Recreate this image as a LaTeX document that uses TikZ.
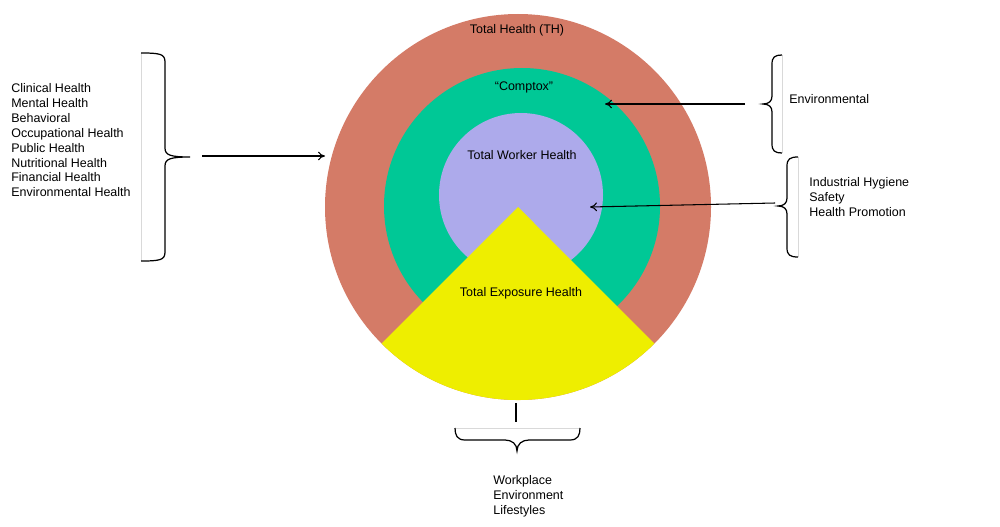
\documentclass[tikz,border=0pt]{standalone}
\usepackage{fontspec}
\setmainfont{Liberation Sans}
\usetikzlibrary{arrows.meta}
\definecolor{th}{HTML}{D47B67}
\definecolor{ct}{HTML}{00C896}
\definecolor{tw}{HTML}{ADAAEB}
\definecolor{te}{HTML}{EEEE00}
\begin{document}
\begin{tikzpicture}[x=0.02cm,y=-0.02cm,
  lbl/.style={font=\fontsize{7.1}{8.5}\selectfont,inner sep=0pt},
  lst/.style={lbl,align=left,anchor=north west},
  br/.style={line width=0.7pt,black},
  gl/.style={line width=0.3pt,black!15},
  arr/.style={line width=0.6pt,-{To[length=4pt,width=5pt]}}]
\useasboundingbox (0,0) rectangle (1000,527);
\fill[th] (518,207) circle[radius=193];
\fill[ct] (522,206) circle[radius=138];
\fill[tw] (521,195) circle[radius=82];
\fill[te] (518,207) -- (381.5,343.5) arc[start angle=135,end angle=45,radius=193] -- cycle;
\node[lbl] (th) at (517,30) {Total Health (TH)};
\node[lbl] (ct) at (524,87) {“Comptox”};
\node[lbl] (tw) at (522,155) {Total Worker Health};
\node[lbl] (te) at (521,293) {Total Exposure Health};
% left
\node[lst] (left) at (11,83) {Clinical Health\\Mental Health\\Behavioral\\Occupational Health\\Public Health\\Nutritional Health\\Financial Health\\Environmental Health};
\draw[gl] (141,53) -- (141,261);
\draw[br] (141,53) .. controls (160,53) and (165,54) .. (165,62) -- (165,148) .. controls (165,155) and (170,157) .. (190,157) .. controls (170,157) and (165,159) .. (165,166) -- (165,252) .. controls (165,260) and (160,261) .. (141,261);
\coordinate (la) at (202,156); \coordinate (lb) at (325,156);
\draw[arr] (la) -- (lb);
% right top
\node[lbl,anchor=west] (env) at (789,99) {Environmental};
\draw[gl] (782,55) -- (782,153);
\draw[br] (782,55) .. controls (775,55) and (772,57) .. (772,64) -- (772,96) .. controls (772,101) and (769,104) .. (763,104) .. controls (769,104) and (772,107) .. (772,112) -- (772,144) .. controls (772,151) and (775,153) .. (782,153);
\coordinate (ea) at (745,104); \coordinate (eb) at (605,104);
\draw[arr] (ea) -- (eb);
% right bottom
\node[lst] (ih) at (809,177) {Industrial Hygiene\\Safety\\Health Promotion};
\draw[gl] (798,157) -- (798,257);
\draw[br] (798,157) .. controls (790,157) and (787,159) .. (787,166) -- (787,198) .. controls (787,203) and (784,206) .. (778,206) .. controls (784,206) and (787,209) .. (787,214) -- (787,248) .. controls (787,255) and (790,257) .. (798,257);
\coordinate (ia) at (775,203); \coordinate (ib) at (590,207);
\draw[arr] (ia) -- (ib);
% bottom
\coordinate (ba) at (516,403); \coordinate (bb) at (516,422);
\draw[line width=0.7pt] (ba) -- (bb);
\draw[gl] (455,428) -- (580,428);
\draw[br] (455,428) .. controls (455,435) and (457,440) .. (465,440) -- (505,440) .. controls (512,440) and (517,444) .. (517,451) .. controls (517,444) and (522,440) .. (529,440) -- (570,440) .. controls (578,440) and (580,435) .. (580,428);
\node[lst] (wp) at (493,475) {Workplace\\Environment\\Lifestyles};
\end{tikzpicture}
\end{document}
